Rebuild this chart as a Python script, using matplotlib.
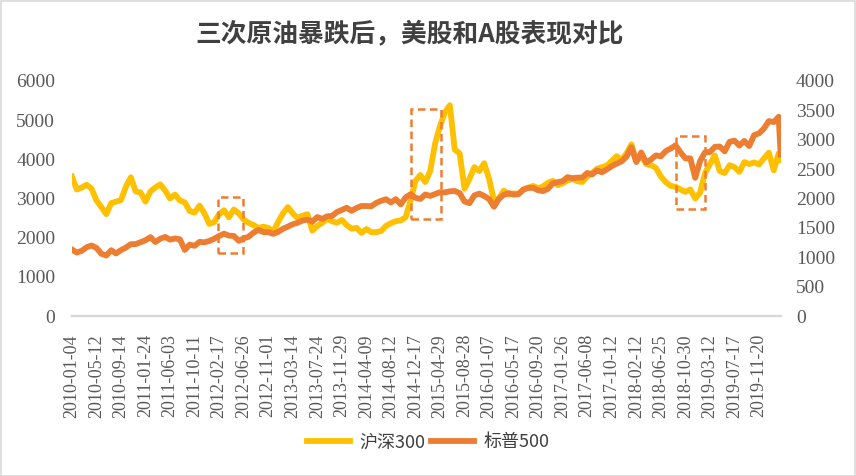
import matplotlib
matplotlib.use("Agg")
import matplotlib.pyplot as plt
from matplotlib.patches import Rectangle
import numpy as np

# 沪深300 (left axis), one value every 17 trading days, last one = end of data
csi300 = [3560, 3230, 3280, 3350, 3250,
          2950, 2780, 2600, 2880, 2920,
          2960, 3300, 3540, 3180, 3150,
          2920, 3180, 3280, 3360, 3200,
          3000, 3100, 2950, 2900, 2680,
          2640, 2820, 2620, 2350, 2400,
          2600, 2700, 2520, 2720, 2620,
          2460, 2380, 2320, 2250, 2280,
          2250, 2150, 2400, 2620, 2780,
          2620, 2500, 2560, 2600, 2180,
          2300, 2380, 2480, 2420, 2380,
          2450, 2320, 2230, 2250, 2120,
          2220, 2140, 2140, 2170, 2300,
          2370, 2420, 2440, 2520, 2950,
          3450, 3600, 3420, 3700, 4400,
          4850, 5200, 5380, 4250, 4150,
          3250, 3500, 3800, 3700, 3900,
          3500, 2950, 3000, 3200, 3100,
          3130, 3120, 3230, 3280, 3320,
          3260, 3310, 3400, 3450, 3340,
          3390, 3460, 3500, 3440, 3420,
          3560, 3650, 3760, 3800, 3840,
          3960, 4080, 3980, 4150, 4380,
          3950, 4100, 3880, 3850, 3780,
          3560, 3420, 3320, 3300, 3230,
          3170, 3230, 3000, 3150, 3650,
          3880, 4100, 3700, 3650, 3850,
          3800, 3680, 3930, 3880, 3920,
          3870, 4020, 4170, 3720, 4150,
          3980]

# 标普500 (right axis)
sp500 = [1133, 1080, 1110, 1170, 1200,
         1160, 1060, 1030, 1120, 1065,
         1122, 1165, 1222, 1224, 1258,
         1290, 1343, 1260, 1315, 1346,
         1300, 1320, 1305, 1125, 1215,
         1195, 1262, 1255, 1277, 1316,
         1361, 1402, 1368, 1363, 1280,
         1320, 1350, 1418, 1465, 1428,
         1427, 1399, 1430, 1485, 1521,
         1563, 1587, 1625, 1640, 1606,
         1685, 1652, 1697, 1703, 1770,
         1806, 1842, 1790, 1839, 1872,
         1872, 1868, 1925, 1960, 1987,
         1933, 1988, 1900, 2018, 2072,
         2012, 1992, 2068, 2044, 2076,
         2106, 2104, 2122, 2128, 2091,
         1950, 1920, 2052, 2083, 2043,
         1990, 1860, 1994, 2063, 2091,
         2066, 2075, 2152, 2180, 2180,
         2139, 2126, 2164, 2259, 2277,
         2296, 2363, 2345, 2355, 2357,
         2434, 2409, 2477, 2446, 2496,
         2550, 2594, 2630, 2713, 2872,
         2620, 2783, 2613, 2663, 2734,
         2717, 2806, 2850, 2904, 2785,
         2682, 2682, 2351, 2639, 2785,
         2791, 2878, 2884, 2803, 2964,
         2984, 2900, 2979, 2893, 3078,
         3108, 3191, 3316, 3300, 3390,
         2746]

tick_labels = ["2010-01-04", "2010-05-12", "2010-09-14", "2011-01-24", "2011-06-03",
               "2011-10-11", "2012-02-17", "2012-06-26", "2012-11-01", "2013-03-14",
               "2013-07-24", "2013-11-29", "2014-04-09", "2014-08-12", "2014-12-17",
               "2015-04-29", "2015-08-28", "2016-01-07", "2016-05-17", "2016-09-20",
               "2017-01-26", "2017-06-08", "2017-10-12", "2018-02-12", "2018-06-25",
               "2018-10-30", "2019-03-12", "2019-07-17", "2019-11-20"]

# dashed boxes: (start day, end day, low, high) in left-axis units
boxes = [(505, 592, 1615, 3050),
         (1176, 1280, 2470, 5290),
         (2094, 2192, 2736, 4597)]

step = 17
tick_step = 85
last_day = 2455
days = np.r_[np.arange(len(csi300) - 1) * step, last_day]

yellow = "#FFC000"
orange = "#ED7D31"
txt = "#595959"
num_font = "Liberation Serif"
cjk = ["Noto Sans CJK SC", "DejaVu Sans"]

fig = plt.figure(figsize=(8.56, 4.76), dpi=100)
fig.patch.set_facecolor("white")
fig.patches.append(Rectangle((0.001, 0.001), 0.998, 0.997, transform=fig.transFigure,
                             fill=False, edgecolor="#D9D9D9", linewidth=1.2))

ax = fig.add_axes([0.084, 0.336, 0.828, 0.494])
ax2 = ax.twinx()

l1, = ax.plot(days, csi300, color=yellow, lw=4.2, solid_joinstyle="round")
l2, = ax2.plot(days, sp500, color=orange, lw=4.2, solid_joinstyle="round")

for x0, x1, lo, hi in boxes:
    ax.add_patch(Rectangle((x0, lo), x1 - x0, hi - lo, fill=False, edgecolor=orange,
                           linewidth=1.8, linestyle=(0, (3, 1.8)), zorder=5))

ax.set_xlim(0, last_day)
ax.set_ylim(0, 6000)
ax2.set_ylim(0, 4000)
ax.set_yticks(np.arange(0, 6001, 1000))
ax2.set_yticks(np.arange(0, 4001, 500))
ax.set_xticks(np.arange(len(tick_labels)) * tick_step)
ax.set_xticklabels(tick_labels, rotation=90, fontsize=13, family=num_font, color=txt)

for a in (ax, ax2):
    for s in a.spines.values():
        s.set_visible(False)
    a.spines["bottom"].set_visible(True)
    a.spines["bottom"].set_color("#D9D9D9")
    a.spines["bottom"].set_linewidth(1.6)
    a.tick_params(length=0)
ax.tick_params(axis="y", pad=12)
ax2.tick_params(axis="y", pad=11)
ax.tick_params(axis="x", pad=13)
for lab in ax.get_yticklabels() + ax2.get_yticklabels():
    lab.set_family(num_font)
    lab.set_fontsize(14)
    lab.set_color(txt)

fig.text(0.479, 0.93, "三次原油暴跌后，美股和A股表现对比", ha="center", va="center",
         fontsize=18.5, fontweight="bold", color="#404040", family=cjk)

fig.legend([l1, l2], ["沪深300", "标普500"], loc="center", bbox_to_anchor=(0.5, 0.071),
           ncol=2, frameon=False, handlelength=2.4, handletextpad=0.5, columnspacing=0.3,
           prop={"family": cjk, "size": 13}, labelcolor="#404040")

fig.savefig("out.png", dpi=100)
